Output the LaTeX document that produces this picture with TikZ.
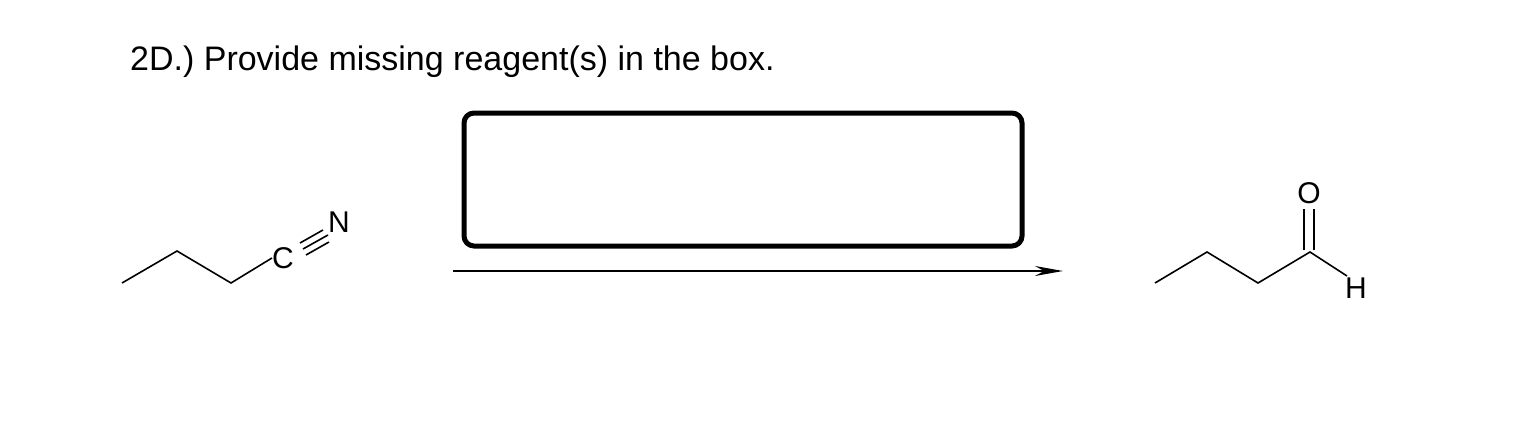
\documentclass[tikz,border=0pt]{standalone}
\usepackage{fontspec}
\setmainfont{Liberation Sans}
\usetikzlibrary{arrows.meta}
\begin{document}
\begin{tikzpicture}[x=1pt,y=-1pt,
  bond/.style={line width=1.6pt},
  atom/.style={font=\fontsize{30}{30}\selectfont,inner sep=0pt}]
\useasboundingbox (0,0) rectangle (1532,442);
\node[anchor=base west,inner sep=0pt,font=\fontsize{34}{34}\selectfont] (title) at (130,70) {2D.) Provide missing reagent(s) in the box.};
% nitrile
\coordinate (a1) at (122,283);
\coordinate (a2) at (177,251);
\coordinate (a3) at (231,283);
\node[atom] (C) at (283,258) {C};
\node[atom] (N) at (339,222) {N};
\draw[bond] (a1) -- (a2) -- (a3) -- (C.west);
\draw[bond] (300,243) -- (323,230);
\draw[bond] (303,249) -- (328,235);
\draw[bond] (306,255) -- (329,242);
% box
\draw[line width=5pt,rounded corners=10pt] (464,113) rectangle (1022,246);
\coordinate (s) at (453,271);
\coordinate (e) at (1063,271);
\draw[line width=1.6pt,-{Stealth[length=28pt,width=10pt]}] (s) -- (e);
% aldehyde
\coordinate (b1) at (1155,283);
\coordinate (b2) at (1207,252);
\coordinate (b3) at (1258,283);
\coordinate (b4) at (1310,252);
\node[atom] (O) at (1309,193) {O};
\node[atom] (H) at (1356,288) {H};
\draw[bond] (b1) -- (b2) -- (b3) -- (b4) -- (1347,276);
\draw[bond] (1304,250) -- (1304,209);
\draw[bond] (1314,250) -- (1314,209);
\end{tikzpicture}
\end{document}
